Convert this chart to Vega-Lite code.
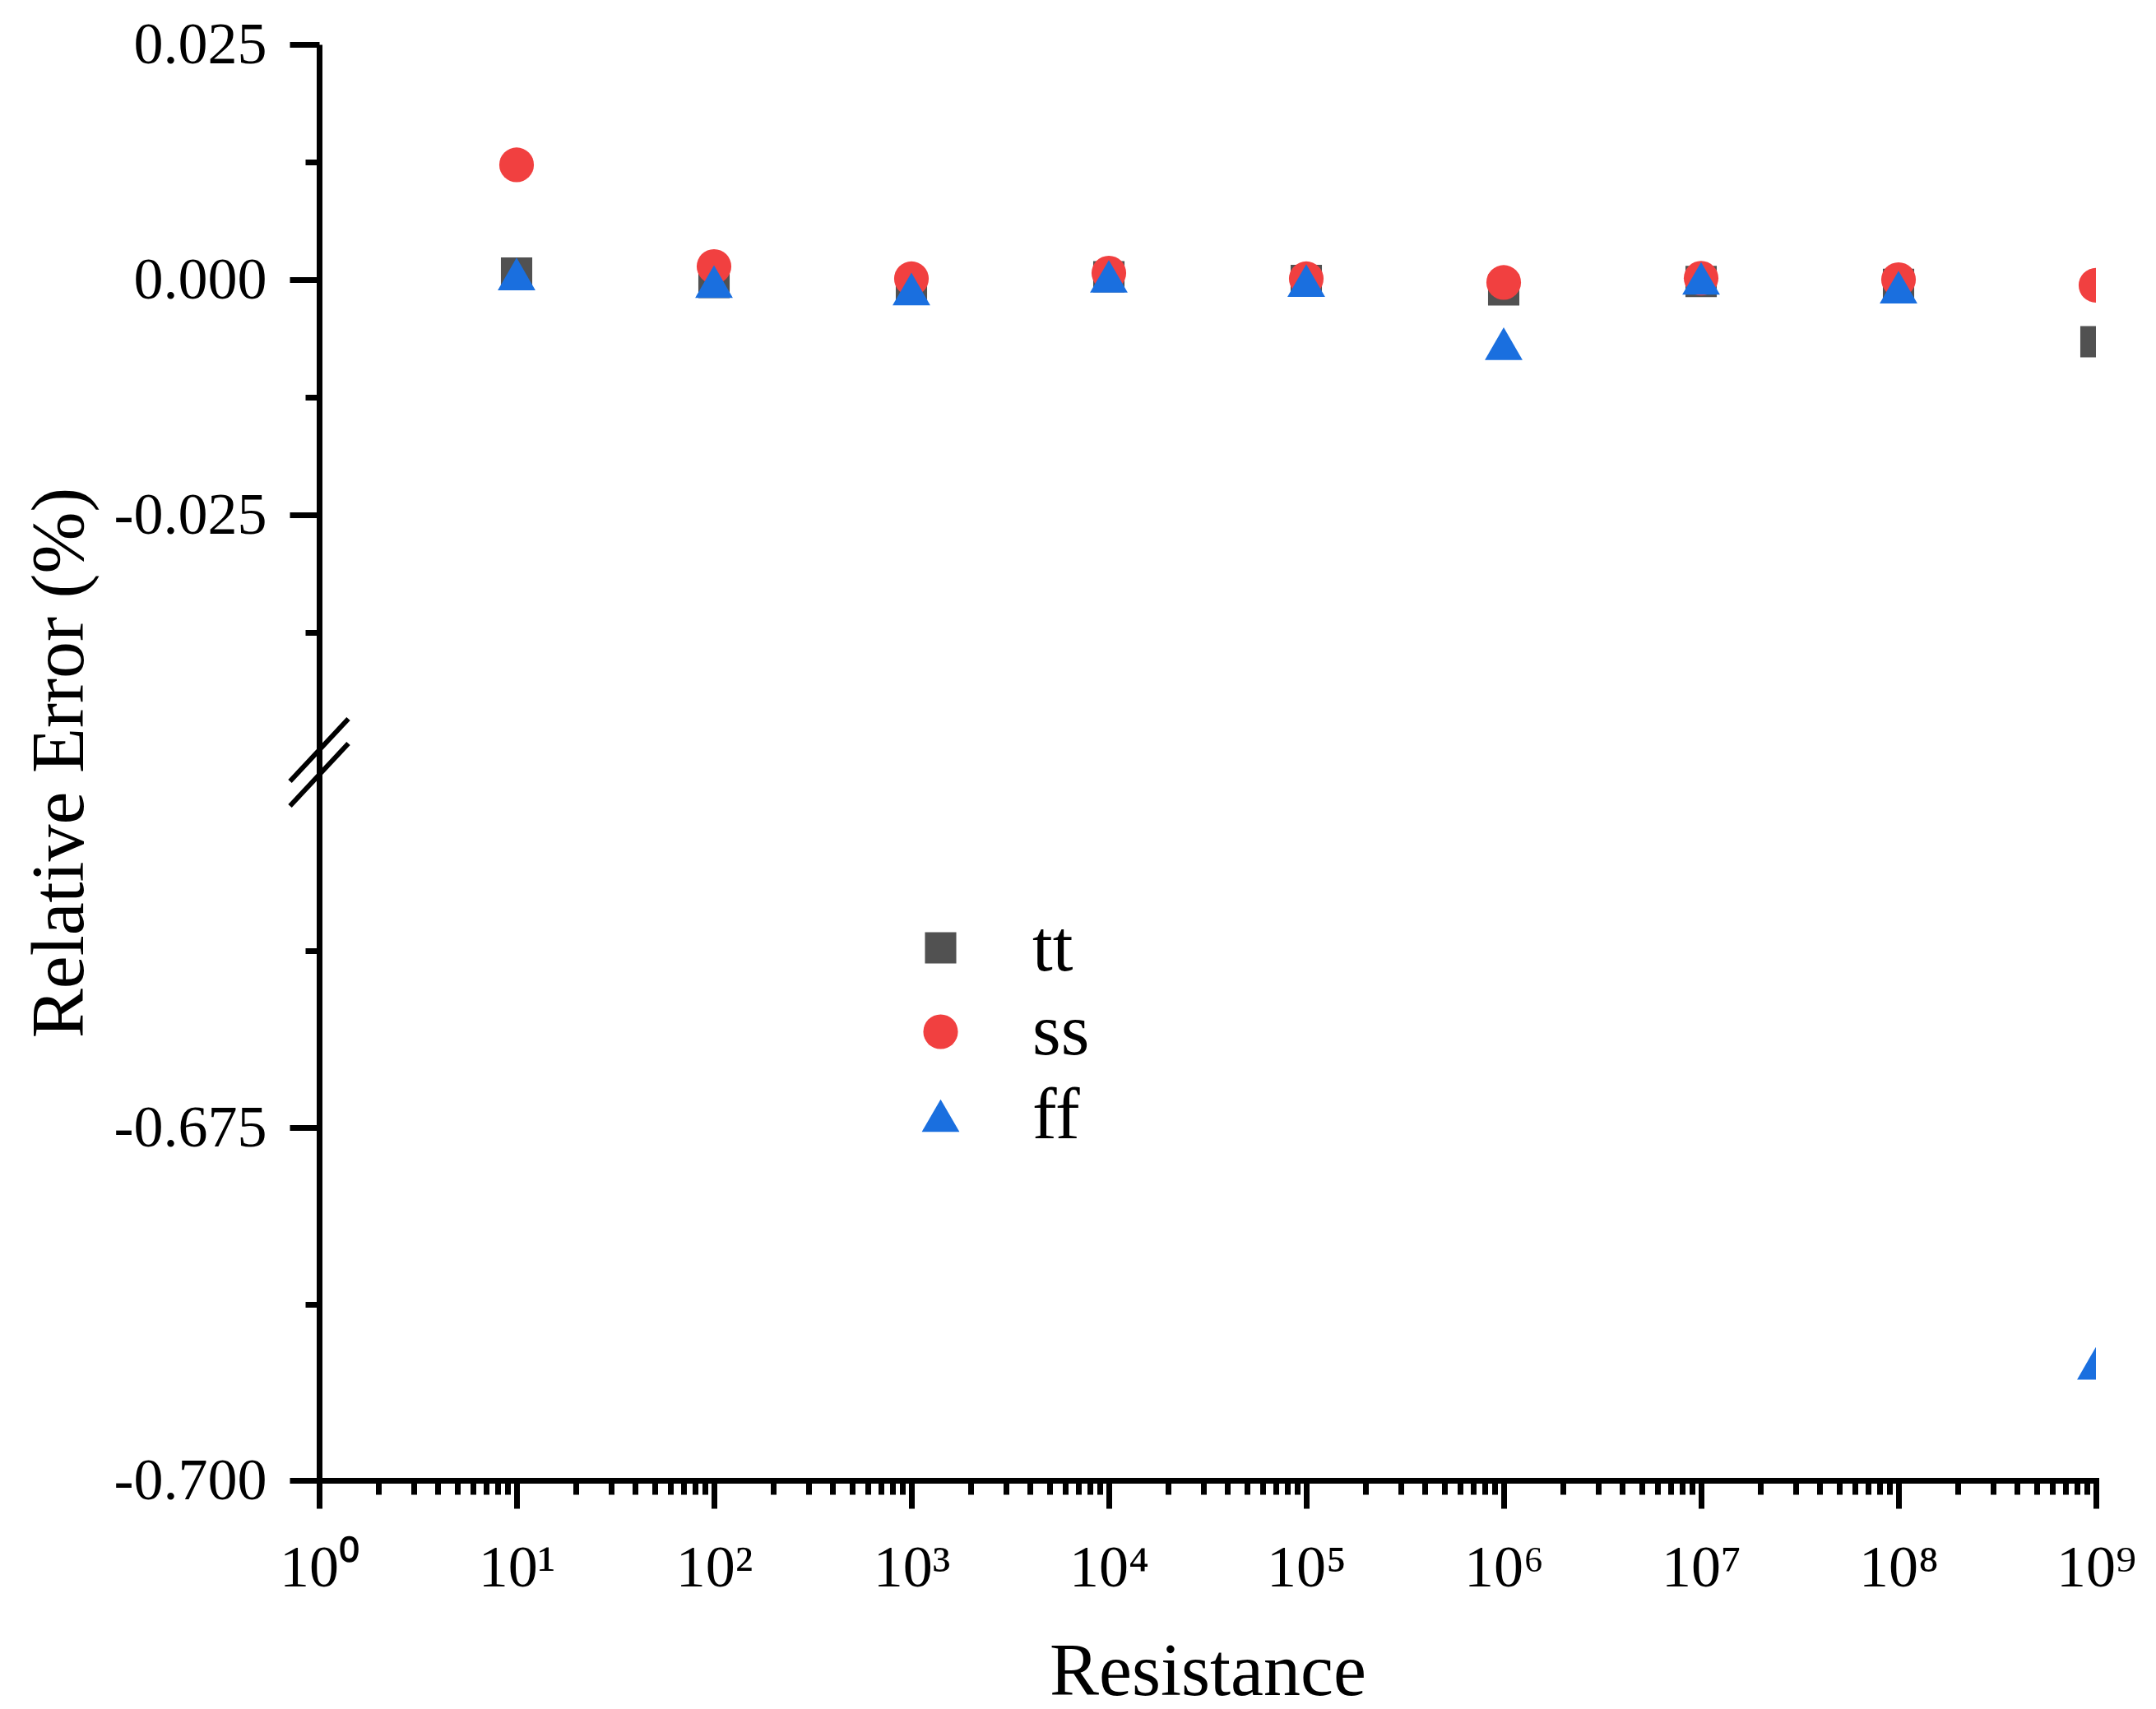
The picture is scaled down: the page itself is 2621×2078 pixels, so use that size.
{
  "$schema": "https://vega.github.io/schema/vega-lite/v6.json",
  "width": 2160,
  "height": 1746,
  "autosize": {"type": "none"},
  "padding": {"left": 388, "top": 54, "right": 73, "bottom": 278},
  "background": "white",
  "config": {
    "view": {"stroke": null},
    "font": "Liberation Serif",
    "axis": {"grid": false, "domainColor": "black", "tickColor": "black", "labelColor": "black", "titleColor": "black", "labelLimit": 0}
  },
  "datasets": {
    "errors": [
      {"Resistance": 1e1, "Error": 0.0007, "Series": "tt"},
      {"Resistance": 1e2, "Error": -0.0003, "Series": "tt"},
      {"Resistance": 1e3, "Error": -0.0008, "Series": "tt"},
      {"Resistance": 1e4, "Error": 0.0003, "Series": "tt"},
      {"Resistance": 1e5, "Error": -0.0001, "Series": "tt"},
      {"Resistance": 1e6, "Error": -0.0011, "Series": "tt"},
      {"Resistance": 1e7, "Error": -0.0002, "Series": "tt"},
      {"Resistance": 1e8, "Error": -0.0005, "Series": "tt"},
      {"Resistance": 1e9, "Error": -0.0066, "Series": "tt"},
      {"Resistance": 1e1, "Error": 0.0122, "Series": "ss"},
      {"Resistance": 1e2, "Error": 0.0014, "Series": "ss"},
      {"Resistance": 1e3, "Error": 0.0001, "Series": "ss"},
      {"Resistance": 1e4, "Error": 0.0007, "Series": "ss"},
      {"Resistance": 1e5, "Error": 0.0001, "Series": "ss"},
      {"Resistance": 1e6, "Error": -0.0003, "Series": "ss"},
      {"Resistance": 1e7, "Error": 0.00015, "Series": "ss"},
      {"Resistance": 1e8, "Error": 0.0, "Series": "ss"},
      {"Resistance": 1e9, "Error": -0.0006, "Series": "ss"},
      {"Resistance": 1e1, "Error": 0.0006, "Series": "ff"},
      {"Resistance": 1e2, "Error": -0.0002, "Series": "ff"},
      {"Resistance": 1e3, "Error": -0.001, "Series": "ff"},
      {"Resistance": 1e4, "Error": 0.00035, "Series": "ff"},
      {"Resistance": 1e5, "Error": -0.0001, "Series": "ff"},
      {"Resistance": 1e6, "Error": -0.0068, "Series": "ff"},
      {"Resistance": 1e7, "Error": 0.00013, "Series": "ff"},
      {"Resistance": 1e8, "Error": -0.0008, "Series": "ff"},
      {"Resistance": 1e9, "Error": -0.6917, "Series": "ff"}
    ],
    "breaks": [
      {"Resistance": 1, "Error": -0.05},
      {"Resistance": 1, "Error": -0.65}
    ]
  },
  "layer": [
    {
      "data": {"name": "errors"},
      "mark": {"type": "point", "filled": true, "opacity": 1, "strokeWidth": 0, "clip": true},
      "encoding": {
        "x": {
          "field": "Resistance",
          "type": "quantitative",
          "scale": {"type": "log", "domain": [1, 1000000000], "nice": false},
          "axis": {
            "orient": "bottom",
            "values": [1, 10, 100, 1000, 10000, 100000, 1000000, 10000000, 100000000, 1000000000],
            "labelExpr": "'10' + ['⁰','¹','²','³','⁴','⁵','⁶','⁷','⁸','⁹'][round(log(datum.value) / LN10)]",
            "labelFont": "Liberation Serif",
            "labelFontSize": 72,
            "labelBaseline": "alphabetic",
            "labelPadding": 94,
            "labelFlush": false,
            "labelOverlap": false,
            "tickSize": 34,
            "tickWidth": 7,
            "domainWidth": 7,
            "domainCap": "square",
            "title": "Resistance",
            "titleFont": "Liberation Serif",
            "titleFontSize": 90,
            "titleFontWeight": "normal",
            "titleBaseline": "alphabetic",
            "titleX": 1080,
            "titleY": 260
          }
        },
        "y": {
          "field": "Error",
          "type": "quantitative",
          "scale": {"domain": [-0.7, -0.65, -0.05, 0.025], "range": [1746, 888, 858, 0], "nice": false, "zero": false},
          "axis": {
            "orient": "left",
            "values": [0.025, 0, -0.025, -0.675, -0.7],
            "labelExpr": "(datum.value < 0 ? '-' : '') + format(abs(datum.value), '.3f')",
            "labelFont": "Liberation Serif",
            "labelFontSize": 72,
            "labelPadding": 28,
            "labelFlush": false,
            "labelOverlap": false,
            "tickSize": 36,
            "tickWidth": 7,
            "domainWidth": 7,
            "title": "Relative Error (%)",
            "titleFont": "Liberation Serif",
            "titleFontSize": 90,
            "titleFontWeight": "normal",
            "titleAngle": 270,
            "titleAlign": "center",
            "titleBaseline": "alphabetic",
            "titleX": -288,
            "titleY": 873
          }
        },
        "color": {
          "field": "Series",
          "type": "nominal",
          "scale": {"domain": ["tt", "ss", "ff"], "range": ["#515151", "#F14040", "#1A6FDF"]},
          "legend": {
            "orient": "none",
            "legendX": 711,
            "legendY": 1054,
            "title": null,
            "padding": 0,
            "labelFont": "Liberation Serif",
            "labelFontSize": 89,
            "labelColor": "black",
            "labelOffset": 67,
            "rowPadding": 12,
            "symbolStrokeWidth": 0,
            "symbolOpacity": 1
          }
        },
        "shape": {
          "field": "Series",
          "type": "nominal",
          "scale": {"domain": ["tt", "ss", "ff"], "range": ["square", "circle", "triangle-up"]}
        },
        "size": {
          "field": "Series",
          "type": "nominal",
          "scale": {"domain": ["tt", "ss", "ff"], "range": [1450, 2100, 3400]}
        }
      }
    },
    {
      "data": {"name": "breaks"},
      "mark": {"type": "point", "shape": "M-0.934,1L0.934,-1", "size": 5776, "filled": false, "stroke": "black", "strokeWidth": 6, "opacity": 1, "clip": false},
      "encoding": {
        "x": {
          "field": "Resistance",
          "type": "quantitative",
          "scale": {"type": "log", "domain": [1, 1000000000], "nice": false},
          "axis": {
            "orient": "bottom",
            "values": [2, 3, 4, 5, 6, 7, 8, 9, 20, 30, 40, 50, 60, 70, 80, 90, 200, 300, 400, 500, 600, 700, 800, 900, 2000, 3000, 4000, 5000, 6000, 7000, 8000, 9000, 20000, 30000, 40000, 50000, 60000, 70000, 80000, 90000, 200000, 300000, 400000, 500000, 600000, 700000, 800000, 900000, 2000000, 3000000, 4000000, 5000000, 6000000, 7000000, 8000000, 9000000, 20000000, 30000000, 40000000, 50000000, 60000000, 70000000, 80000000, 90000000, 200000000, 300000000, 400000000, 500000000, 600000000, 700000000, 800000000, 900000000],
            "labels": false,
            "domain": false,
            "tickSize": 17,
            "tickWidth": 7,
            "title": null
          }
        },
        "y": {
          "field": "Error",
          "type": "quantitative",
          "scale": {"domain": [-0.7, -0.65, -0.05, 0.025], "range": [1746, 888, 858, 0], "nice": false, "zero": false},
          "axis": {
            "orient": "left",
            "values": [0.0125, -0.0125, -0.0375, -0.6625, -0.6875],
            "labels": false,
            "domain": false,
            "tickSize": 17,
            "tickWidth": 7,
            "title": null
          }
        }
      }
    }
  ],
  "resolve": {"axis": {"x": "independent", "y": "independent"}}
}
